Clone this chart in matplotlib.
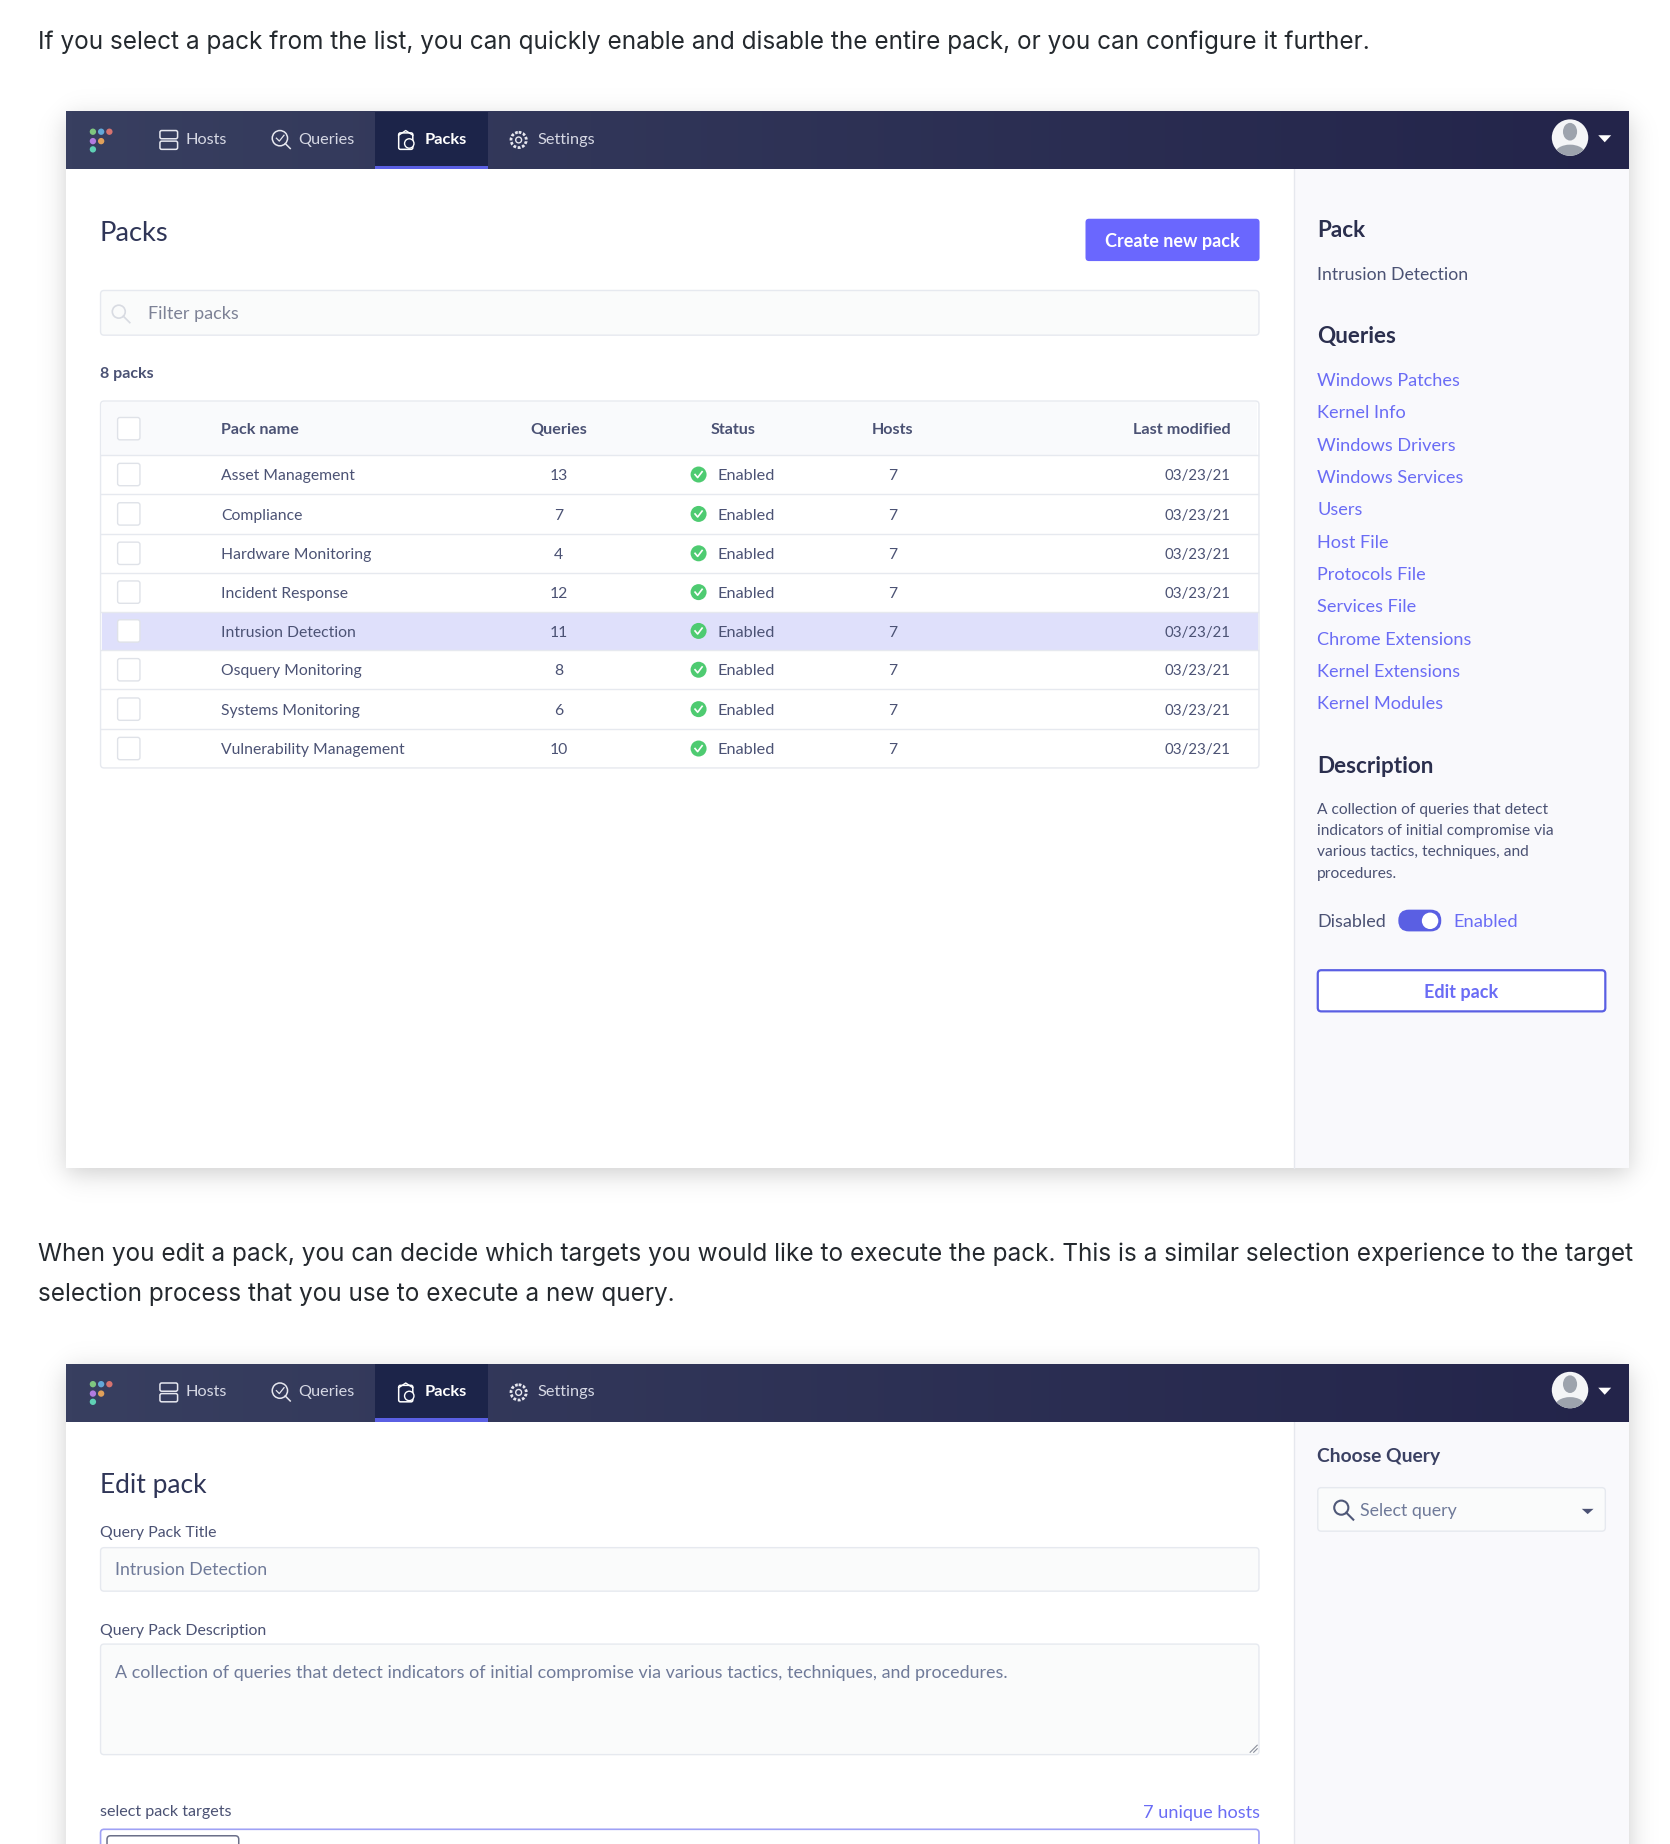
import numpy as np
import matplotlib
matplotlib.use('Agg')
import matplotlib.pyplot as plt
from matplotlib.patches import Rectangle, FancyBboxPatch, Circle, Polygon, Ellipse

# table data
pack_names = ['Asset Management', 'Compliance', 'Hardware Monitoring', 'Incident Response',
              'Intrusion Detection', 'Osquery Monitoring', 'Systems Monitoring', 'Vulnerability Management']
pack_queries = [13, 7, 4, 12, 11, 8, 6, 10]
pack_hosts = [7, 7, 7, 7, 7, 7, 7, 7]
pack_status = ['Enabled'] * 8
pack_modified = ['03/23/21'] * 8
table_columns = ['Pack name', 'Queries', 'Status', 'Hosts', 'Last modified']
query_links = ['Windows Patches', 'Kernel Info', 'Windows Drivers', 'Windows Services', 'Users', 'Host File',
               'Protocols File', 'Services File', 'Chrome Extensions', 'Kernel Extensions', 'Kernel Modules']
description_lines = ['A collection of queries that detect', 'indicators of initial compromise via',
                     'various tactics, techniques, and', 'procedures.']
nav_items = ['Hosts', 'Queries', 'Packs', 'Settings']

UI_FONT = ['Lato', 'DejaVu Sans']
BODY_FONT = ['Inter', 'DejaVu Sans']
DARK = '#2f3557'
TEXT = '#4b5274'
LINK = '#6a6cf5'
BORDER = '#e6e9ef'

fig = plt.figure(figsize=(16.7, 18.44), dpi=100)
ax = fig.add_axes([0, 0, 1, 1])
ax.set_xlim(0, 1420)
ax.set_ylim(1568, 0)
ax.axis('off')


def txt(x, y, s, size=12, color=TEXT, ha='left', weight='normal', family=UI_FONT, z=10):
    # va center sits a bit high compared to the screenshot
    ax.text(x, y + 1.4, s, fontsize=size, color=color, ha=ha, va='center', fontweight=weight, family=family, zorder=z)


def rect(x0, y0, x1, y1, fc, ec='none', lw=0, z=2, alpha=None):
    ax.add_patch(Rectangle((x0, y0), x1 - x0, y1 - y0, fc=fc, ec=ec, lw=lw, zorder=z, alpha=alpha))


def rbox(x0, y0, x1, y1, fc, ec='none', lw=1, r=3, z=3):
    ax.add_patch(FancyBboxPatch((x0 + r, y0 + r), x1 - x0 - 2 * r, y1 - y0 - 2 * r,
                                boxstyle='round,pad=%f,rounding_size=%f' % (r, r),
                                fc=fc, ec=ec, lw=lw, zorder=z))


def reset_limits():
    ax.set_xlim(0, 1420)
    ax.set_ylim(1568, 0)


def shadow(x0, y0, x1, y1, s=13, dy=5, strength=0.2):
    pad = 45
    gx = np.arange(x0 - pad, x1 + pad)
    gy = np.arange(y0 - pad, y1 + pad)
    ax_x = 0.5 * (np.tanh((gx - x0) / s) - np.tanh((gx - x1) / s))
    ax_y = 0.5 * (np.tanh((gy - y0 - dy) / s) - np.tanh((gy - y1 - dy) / s))
    img = np.zeros((len(gy), len(gx), 4))
    img[..., 3] = strength * np.outer(ax_y, ax_x)
    ax.imshow(img, extent=(gx[0], gx[-1], gy[-1], gy[0]), aspect='auto', zorder=1, interpolation='bilinear')
    reset_limits()


def search_icon(cx, cy, r, color, lw=1.5, tail=1.7):
    ax.add_patch(Circle((cx, cy), r, fc='none', ec=color, lw=lw, zorder=6))
    ax.plot([cx + r * 0.7, cx + r * tail], [cy + r * 0.7, cy + r * tail], color=color, lw=lw, zorder=6)


def draw_nav(top):
    h = 49
    grad = np.linspace(0, 1, 256).reshape(1, -1)
    cmap = matplotlib.colors.LinearSegmentedColormap.from_list('nav', ['#383f60', '#23244a'])
    ax.imshow(grad, extent=(56, 1385, top + h, top), aspect='auto', cmap=cmap, zorder=3)
    reset_limits()
    # active tab
    rect(319, top, 415, top + h, '#1c2449', z=4)
    rect(319, top + 46, 415, top + h, '#5a5fe3', z=5)
    # logo dots
    cols = [('#7fc67f', 79, 17), ('#63a8d8', 86, 17), ('#d6736f', 93, 17),
            ('#b27be0', 79, 25), ('#e0a05a', 86, 25), ('#5fd0b5', 79, 32)]
    for c, x, dy in cols:
        ax.add_patch(Circle((x, top + dy), 2.7, fc=c, ec='none', zorder=6))
    cy = top + 23
    # hosts icon
    rbox(136, cy - 7, 151, cy, 'none', '#e6e7ef', 1.1, 1.5, z=6)
    rbox(136, cy + 2, 151, cy + 9, 'none', '#e6e7ef', 1.1, 1.5, z=6)
    # queries icon
    search_icon(238, cy - 0.5, 6.5, '#e6e7ef', 1.1, tail=1.35)
    ax.plot([235, 237.5, 241.5], [cy - 0.5, cy + 2, cy - 3], color='#e6e7ef', lw=0.9, zorder=6)
    # packs icon
    rbox(339, cy - 5, 351, cy + 9, 'none', '#ffffff', 1.1, 1.5, z=6)
    ax.plot([339, 345, 351], [cy - 3, cy - 7, cy - 3], color='#ffffff', lw=1.0, zorder=6)
    ax.add_patch(Circle((348, cy + 4), 4, fc='#1c2449', ec='#ffffff', lw=1.0, zorder=7))
    # settings icon
    ax.add_patch(Circle((441, cy + 1), 6.5, fc='none', ec='#e6e7ef', lw=2, ls=(0, (1, 0.6)), zorder=6))
    ax.add_patch(Circle((441, cy + 1), 2.5, fc='none', ec='#e6e7ef', lw=1.0, zorder=6))
    xs = [158, 254, 361, 457]
    for name, x in zip(nav_items, xs):
        if name == 'Packs':
            txt(x, cy - 0.5, name, 11.8, '#ffffff', weight='bold', z=7)
        else:
            txt(x, cy - 0.5, name, 11.7, '#d6d8e4', z=7)
    # avatar
    av = Circle((1335, top + 22), 15.5, fc='#f4f5f7', ec='none', zorder=6)
    ax.add_patch(av)
    head = Ellipse((1335, top + 17), 12, 15, fc='#9da3ad', ec='none', zorder=7)
    ax.add_patch(head)
    body = Ellipse((1335, top + 36), 26, 16, fc='#9da3ad', ec='none', zorder=7)
    ax.add_patch(body)
    body.set_clip_path(av)
    ax.add_patch(Polygon([(1359, top + 20), (1370, top + 20), (1364.5, top + 26)], fc='#ffffff', ec='none', zorder=6))


def check(cx, cy):
    ax.add_patch(Circle((cx, cy), 6.8, fc='#4ecb71', ec='none', zorder=6))
    ax.plot([cx - 3, cx - 0.8, cx + 3], [cy, cy + 2.6, cy - 2.4], color='#ffffff', lw=1.2, zorder=7)


fig.patch.set_facecolor('#ffffff')

# intro text
txt(32, 34.5, 'If you select a pack from the list, you can quickly enable and disable the entire pack, or you can configure it further.',
    17.53, '#24292e', family=BODY_FONT)
txt(32, 1065.5, 'When you edit a pack, you can decide which targets you would like to execute the pack. This is a similar selection experience to the target',
    17.53, '#24292e', family=BODY_FONT)
txt(32, 1099.5, 'selection process that you use to execute a new query.', 17.53, '#24292e', family=BODY_FONT)

# first window
shadow(56, 95, 1385, 993)
rect(56, 95, 1385, 993, '#ffffff', z=2)
rect(1100, 144, 1385, 993, '#f9f9fc', z=2)
ax.plot([1100, 1100], [144, 993], color='#e6e8ee', lw=1, zorder=3)
draw_nav(95)

txt(85, 197, 'Packs', 19.7, DARK)
rbox(923, 186, 1071, 222, '#6a67fe', r=3)
txt(997, 204, 'Create new pack', 13, '#ffffff', ha='center', weight='bold')
rbox(85.5, 247, 1070.5, 285, '#fafbfb', BORDER, 1, r=3)
search_icon(101, 265, 5.5, '#d8dbe2', 1.2)
txt(126, 265.5, 'Filter packs', 13, '#7d8296')
txt(85, 316.5, '8 packs', 11.5, TEXT, weight='bold')

# table
row_tops = [387, 420, 454, 487, 520, 553, 586, 620]
row_bottom = 653
rbox(85.5, 341, 1070.5, 653, '#ffffff', BORDER, 1, r=3, z=2)
rect(87, 342, 1069, 387, '#f9fafc', z=2)
rect(87, row_tops[4], 1070, row_tops[5], '#dfe0fb', z=3)
for y in row_tops:
    ax.plot([86, 1070], [y, y], color=BORDER, lw=1, zorder=4)
col_x = {'Queries': 475, 'Status': 623, 'Hosts': 759}
txt(188, 364, table_columns[0], 11.6, TEXT, weight='bold')
for name in table_columns[1:4]:
    txt(col_x[name], 364, name, 11.6, TEXT, ha='center', weight='bold')
txt(1046, 364, table_columns[4], 11.7, TEXT, ha='right', weight='bold')
rbox(100, 355, 119, 374, '#ffffff', '#dfe2e8', 1, r=2, z=5)

for i in range(len(pack_names)):
    bottom = row_tops[i + 1] if i + 1 < len(row_tops) else row_bottom
    cy = (row_tops[i] + bottom) / 2
    rbox(100, cy - 9.5, 119, cy + 9.5, '#ffffff', '#dfe2e8', 1, r=2, z=5)
    txt(188, cy, pack_names[i], 11.3, TEXT)
    txt(475, cy, str(pack_queries[i]), 11.3, TEXT, ha='center')
    check(594, cy)
    txt(610, cy, pack_status[i], 11.7, TEXT)
    txt(759, cy, str(pack_hosts[i]), 11.3, TEXT, ha='center')
    txt(1046, cy, pack_modified[i], 10.8, TEXT, ha='right')

# side panel
txt(1120, 195, 'Pack', 16.2, '#2b2f4e', weight='bold')
txt(1120, 232.5, 'Intrusion Detection', 12.7, TEXT)
txt(1120, 284.5, 'Queries', 16.2, '#2b2f4e', weight='bold')
for i, name in enumerate(query_links):
    txt(1120, 322.5 + 27.5 * i, name, 13.1, LINK)
txt(1120, 650, 'Description', 16.2, '#2b2f4e', weight='bold')
for i, line in enumerate(description_lines):
    txt(1120, 687.5 + 18 * i, line, 11.2, TEXT)
txt(1120, 782.5, 'Disabled', 13, TEXT)
rbox(1189, 773.5, 1225.5, 792, '#5a5fe3', r=9, z=4)
ax.add_patch(Circle((1216, 783), 7, fc='#ffffff', ec='none', zorder=5))
txt(1236, 782.5, 'Enabled', 13.2, LINK)
rbox(1120.5, 825, 1365, 860, '#ffffff', '#5a5fe3', 1.6, r=3)
txt(1242.5, 842.5, 'Edit pack', 13, LINK, ha='center', weight='bold')

# second window
shadow(56, 1160, 1385, 1640)
rect(56, 1160, 1385, 1600, '#ffffff', z=2)
rect(1100, 1209, 1385, 1600, '#f9f9fc', z=2)
ax.plot([1100, 1100], [1209, 1568], color='#e6e8ee', lw=1, zorder=3)
draw_nav(1160)

txt(85, 1261.5, 'Edit pack', 19, DARK)
txt(85, 1302.5, 'Query Pack Title', 11.4, TEXT)
rbox(85.5, 1316, 1070.5, 1353, '#fafbfb', BORDER, 1, r=3)
txt(98, 1334, 'Intrusion Detection', 12.8, '#6f7a99')
txt(85, 1385.5, 'Query Pack Description', 11.4, TEXT)
rbox(85.5, 1398, 1070.5, 1492, '#fafbfb', BORDER, 1, r=3)
txt(98, 1421.5, 'A collection of queries that detect indicators of initial compromise via various tactics, techniques, and procedures.',
    12.9, '#6f7a99')
ax.plot([1063, 1069], [1490, 1484], color='#8a8f9c', lw=0.8, zorder=5)
ax.plot([1066, 1069], [1490, 1487], color='#8a8f9c', lw=0.8, zorder=5)
txt(85, 1539, 'select pack targets', 11.6, TEXT)
txt(1071, 1540.5, '7 unique hosts', 13.1, LINK, ha='right')
rbox(85.5, 1555.5, 1070.5, 1600, '#ffffff', '#9fa1f5', 1.2, r=3)
rbox(91, 1561, 203, 1600, '#ffffff', '#6b7089', 1.1, r=3, z=4)

txt(1120, 1237.5, 'Choose Query', 13.9, '#3b4163', weight='bold')
rbox(1120.5, 1265, 1365, 1302, '#fafbfb', BORDER, 1, r=3)
search_icon(1140.5, 1282, 6, '#4f5878', 1.5)
txt(1156, 1283.5, 'Select query', 12.8, '#6f7a99')
ax.add_patch(Polygon([(1345, 1283), (1355, 1283), (1350, 1287.5)], fc='#4b5274', ec='none', zorder=6))

fig.savefig('out.png', dpi=100, facecolor='white')
